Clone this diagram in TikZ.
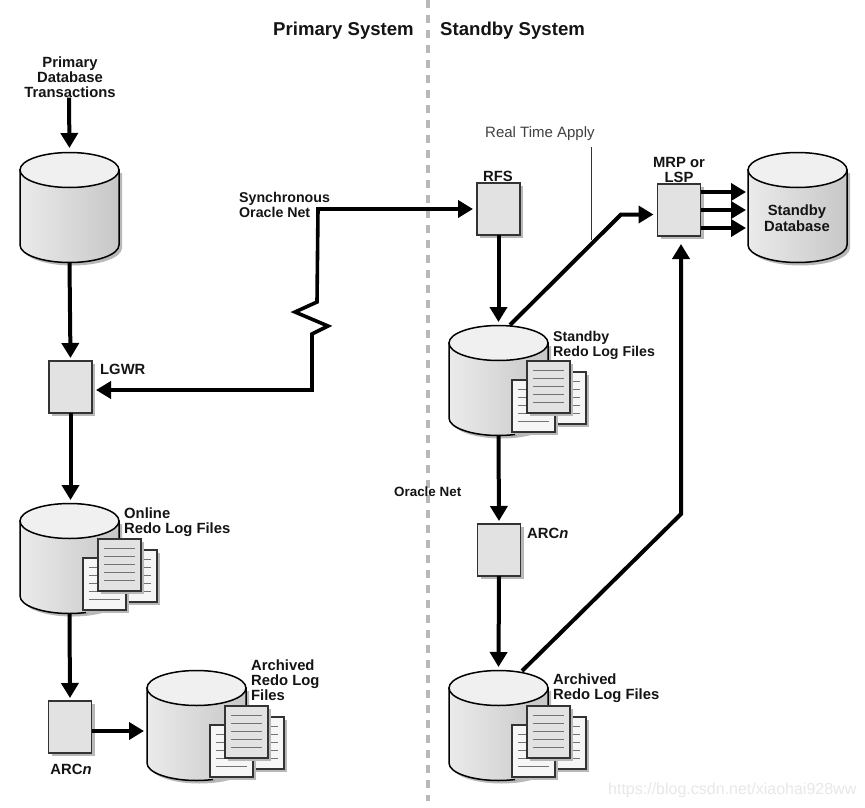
\documentclass[tikz,border=0pt]{standalone}
\usepackage{fontspec}
\setmainfont{Liberation Sans}
\usetikzlibrary{arrows.meta,calc}
\definecolor{boxfill}{HTML}{E2E2E2}
\definecolor{shadowc}{HTML}{B8B8B8}
\definecolor{pagefill}{HTML}{F6F6F6}
\tikzset{
  x=1pt,y=-1pt,
  flow/.style={line width=4pt,-{Triangle[length=15pt,width=17pt]},black,line join=miter},
  proc/.style={draw=black!80,line width=1.2pt,fill=boxfill,minimum width=43pt,minimum height=52pt,inner sep=0pt,outer sep=0pt},
  lbl/.style={font=\fontsize{14.8}{15}\selectfont\bfseries,text=black!92,align=left,inner sep=0pt},
  lbls/.style={lbl,font=\fontsize{14.2}{15}\selectfont\bfseries},
  lblc/.style={lbl,align=center},
  head/.style={font=\fontsize{18.6}{20}\selectfont\bfseries,text=black!92,inner sep=0pt,anchor=west},
  cylbox/.style={minimum width=99pt,minimum height=111pt,inner sep=0pt,outer sep=0pt},
}
% #1 name, #2 left x, #3 top y
\newcommand{\drumshape}[3]{%
  \begin{scope}[shift={(#2,#3)}]
    \fill[shadowc] (3,21) -- (3,96) arc[start angle=180,end angle=0,x radius=49.5,y radius=17.5] -- (102,21) -- cycle;
    \path[left color=white!92!black,right color=black!22,draw=black,line width=1.5pt]
      (0,18) -- (0,93) arc[start angle=180,end angle=0,x radius=49.5,y radius=17.5] -- (99,18) -- cycle;
    \draw[fill=black!6,line width=1.5pt] (49.5,18) ellipse[x radius=49.5,y radius=17.5];
    \node[cylbox,anchor=north west] (#1) at (0,0) {};
  \end{scope}}
% sheet: #1 x, #2 y (top left), #3 fill
\newcommand{\sheet}[3]{%
  \fill[shadowc] (#1+3,#2+3) rectangle (#1+46,#2+55);
  \draw[fill=#3,draw=black!80,line width=1.2pt] (#1,#2) rectangle (#1+43,#2+52);
  \foreach \k in {9,17,25,33,41}
    \draw[black!55,line width=1pt] (#1+6,#2+\k) -- (#1+37,#2+\k);}
\newcommand{\docstack}[2]{%
  \begin{scope}[shift={(#1,#2)}]
    \sheet{94}{47}{pagefill}
    \sheet{63}{55}{pagefill}
    \sheet{78}{36}{boxfill}
  \end{scope}}
\begin{document}
\begin{tikzpicture}
\useasboundingbox (0,0) rectangle (865,808);
\fill[white] (0,0) rectangle (865,808);
% divider
\draw[black!28,line width=3.6pt,dash pattern=on 8pt off 7pt] (428,0) -- (428,801);
% headings
\node[head] (hp) at (273,31) {Primary System};
\node[head] (hs) at (440,31) {Standby System};
% drums
\drumshape{dbtop}{20}{152}
\drumshape{online}{20}{503}\docstack{20}{503}
\drumshape{archL}{147}{670}\docstack{147}{670}
\drumshape{redo}{449}{325}\docstack{449}{325}
\drumshape{archR}{449}{670}\docstack{449}{670}
\drumshape{sdb}{748}{152}
% process boxes
\foreach \nm/\cx/\cy in {lgwr/70.5/387,arcL/70/727,rfs/498.5/209,mrp/679/210,arcR/499/550}{
  \fill[shadowc] (\cx-21.5+3,\cy-26+3) rectangle (\cx+21.5+3,\cy+26+3);
  \node[proc] (\nm) at (\cx,\cy) {};
}
% labels
\node[lblc] (ptx) at (70,77) {Primary\\Database\\Transactions};
\node[lbl,anchor=west] (llgwr) at (100,369) {LGWR};
\node[lbl,anchor=north west] (lon) at (124,508) {Online\\Redo Log Files};
\node[lblc] (larcl) at (71,769) {ARC\textit{n}};
\node[lbl,anchor=north west] (larl) at (251,660) {Archived\\Redo Log\\Files};
\node[lbls,anchor=north west] (lsync) at (239,192) {Synchronous\\Oracle Net};
\node[lblc] (lrfs) at (498,176) {RFS};
\node[lblc] (lmrp) at (679,170) {MRP or\\LSP};
\node[lblc,font=\fontsize{14.8}{16}\selectfont\bfseries] (lsdb) at (797,218) {Standby\\Database};
\node[lbls,anchor=north west] (lsr) at (553,331) {Standby\\Redo Log Files};
\node[lbl,anchor=west,font=\fontsize{13.4}{15}\selectfont\bfseries] (lon2) at (394,492) {Oracle Net};
\node[lbl,anchor=west] (larcr) at (527,533) {ARC\textit{n}};
\node[lbl,anchor=north west] (larr) at (553,674) {Archived\\Redo Log Files};
\node[font=\fontsize{15}{15}\selectfont,text=black!75,inner sep=0pt,anchor=west] (lrta) at (485,133.5) {Real Time Apply};
\node[font=\fontsize{16}{17}\selectfont,text=black!9,inner sep=0pt,anchor=west] (wm) at (608,790) {https://blog.csdn.net/xiaohai928ww};
% bend and free points
\coordinate (rtaTop) at (591.5,147);
\coordinate (rtaEnd) at (591.5,240);
% thin line
\draw[black!80,line width=.8pt] (rtaTop) -- (rtaEnd);
% connectors
\draw[flow,shorten >=4pt] (ptx.south) ++(-1,0) -- (dbtop.north);
\draw[flow,shorten >=3pt] (dbtop.south) -- (lgwr.north);
\draw[flow,shorten >=3pt] (lgwr.south) -- (online.north -| lgwr.south);
\draw[flow,shorten >=3pt] (online.south) -- (arcL.north);
\draw[flow,shorten >=3pt] (arcL.east) ++(0,4) -- (archL.west |- 0,731);
\draw[flow,shorten >=3pt] (rfs.south) -- (redo.north);
\draw[flow,shorten >=3pt] (redo.south) -- (arcR.north);
\draw[flow,shorten >=3pt] (arcR.south) -- (archR.north);
% synchronous net
\coordinate (n1) at (318,209);
\coordinate (n2) at (317,302);
\coordinate (n3) at (295,312);
\coordinate (n4) at (328,326);
\coordinate (n5) at (312,334);
\coordinate (n6) at (312,390);
\draw[flow,shorten >=4pt] (n6) -- ($(lgwr.east)+(0,3)$);
\draw[line width=3.6pt,black,miter limit=10,line cap=rect] (n1) -- (n2) -- (n3) -- (n4) -- (n5) -- (n6);
\draw[flow,shorten >=4pt] (n1) -- (rfs.west);
% apply to MRP
\coordinate (a1) at (510,325);
\coordinate (a2) at (621,214.5);
\draw[flow,shorten >=4pt] (a1) -- (a2) -- (mrp.west |- a2);
% archive to MRP
\coordinate (b1) at (522,671);
\coordinate (b2) at (681,514);
\draw[flow,shorten >=8pt] (b1) -- (b2) -- (b2 |- mrp.south);
% MRP to database
\foreach \yy in {192,210,228}
  \draw[flow,shorten >=2pt] (mrp.east |- 0,\yy) -- (sdb.west |- 0,\yy);
\end{tikzpicture}
\end{document}
